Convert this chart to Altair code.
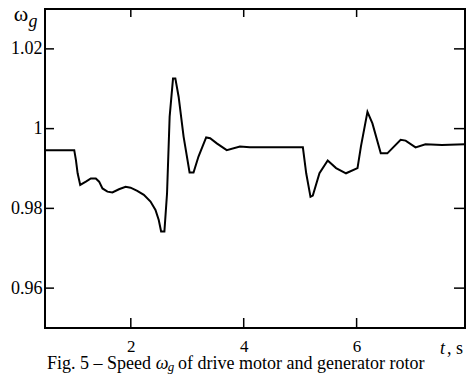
import altair as alt
import pandas as pd

# time, s
t = [0.48, 0.998, 1.028, 1.058, 1.104, 1.204, 1.292, 1.380, 1.439, 1.498, 1.586, 1.674,
     1.79, 1.908, 1.996, 2.114, 2.231, 2.349, 2.437, 2.495, 2.537, 2.595, 2.642, 2.688,
     2.748, 2.789, 2.847, 2.935, 3.041, 3.111, 3.199, 3.335, 3.405, 3.523, 3.699, 3.933,
     4.109, 5.048, 5.107, 5.183, 5.224, 5.342, 5.488, 5.636, 5.812, 6.016, 6.076, 6.192,
     6.280, 6.428, 6.544, 6.780, 6.868, 7.044, 7.220, 7.512, 7.92]
# speed omega_g
w = [0.9946, 0.9946, 0.9921, 0.9888, 0.9859, 0.9867, 0.9875, 0.9875, 0.9867, 0.9850,
     0.9842, 0.9840, 0.9848, 0.9854, 0.9852, 0.9844, 0.9834, 0.9817, 0.9796, 0.9771,
     0.9742, 0.9742, 0.9838, 1.0030, 1.0126, 1.0126, 1.0080, 0.9980, 0.9890, 0.9890,
     0.9930, 0.9978, 0.9976, 0.9963, 0.9946, 0.9955, 0.9953, 0.9953, 0.9888, 0.9829,
     0.9832, 0.9888, 0.9920, 0.9901, 0.9888, 0.9901, 0.9955, 1.0042, 1.0013, 0.9938,
     0.9938, 0.9972, 0.9970, 0.9953, 0.9961, 0.9959, 0.9961]

x_ticks = [2, 4, 6]
y_ticks = [0.96, 0.98, 1.0, 1.02]
y_label = ["ω", "g"]
x_label = ["t", ", s"]
caption = ["Fig. 5 – Speed", "ω", "g", "of drive motor and generator rotor"]

W, H = 420, 319
FONT = "Liberation Serif"

xs = alt.Scale(domain=[0.48, 7.92], nice=False, zero=False)
ys = alt.Scale(domain=[0.95, 1.03], nice=False, zero=False)

df = pd.DataFrame({"t": t, "w": w})

line = alt.Chart(df).mark_line(color="black", strokeWidth=2).encode(
    x=alt.X("t:Q", scale=xs, title=None,
            axis=alt.Axis(values=x_ticks, format="d", domain=False, ticks=False, grid=False,
                          labelFont=FONT, labelFontSize=17, labelColor="black",
                          labelPadding=10, labelFlush=False)),
    y=alt.Y("w:Q", scale=ys, title=None,
            axis=alt.Axis(values=y_ticks, format="~g", domain=False, ticks=False, grid=False,
                          labelFont=FONT, labelFontSize=18, labelColor="black",
                          labelPadding=3)),
)

xt = pd.DataFrame({"t": x_ticks})
yt = pd.DataFrame({"w": y_ticks})
rule = dict(color="black", strokeWidth=1.5)
bottom = alt.Chart(xt).mark_rule(**rule).encode(
    x=alt.X("t:Q", scale=xs, title=None), y=alt.value(H), y2=alt.value(H - 10))
top = alt.Chart(xt).mark_rule(**rule).encode(
    x=alt.X("t:Q", scale=xs, title=None), y=alt.value(0), y2=alt.value(8))
left = alt.Chart(yt).mark_rule(**rule).encode(
    y=alt.Y("w:Q", scale=ys, title=None), x=alt.value(0), x2=alt.value(9))
right = alt.Chart(yt).mark_rule(**rule).encode(
    y=alt.Y("w:Q", scale=ys, title=None), x=alt.value(W), x2=alt.value(W - 11))


def txt(s, x, y, size, italic=False, align="left"):
    return alt.Chart(pd.DataFrame({"s": [s]})).mark_text(
        font=FONT, fontSize=size, fontStyle="italic" if italic else "normal",
        align=align, baseline="alphabetic", color="black"
    ).encode(text="s:N", x=alt.value(x), y=alt.value(y))


texts = [
    txt(y_label[0], -24, 12, 22, align="center"),
    txt(y_label[1], -12, 18, 18, italic=True, align="center"),
    txt(x_label[0], 395, 345, 18, italic=True, align="left"),
    txt(x_label[1], 402, 345, 18, align="left"),
    txt(caption[0], 106, 360, 18, align="right"),
    txt(caption[1], 117, 360, 18, italic=True, align="center"),
    txt(caption[2], 126, 362, 13, italic=True, align="center"),
    txt(caption[3], 133, 360, 18, align="left"),
]

chart = alt.layer(line, bottom, top, left, right, *texts).properties(
    width=W, height=H,
    background="white",
    autosize=alt.AutoSizeParams(type="none"),
    padding={"left": 37, "top": 1, "right": 1, "bottom": 46},
).configure_view(stroke="black", strokeWidth=2)

chart.save("out.html", embed_options={"renderer": "svg", "actions": False})
